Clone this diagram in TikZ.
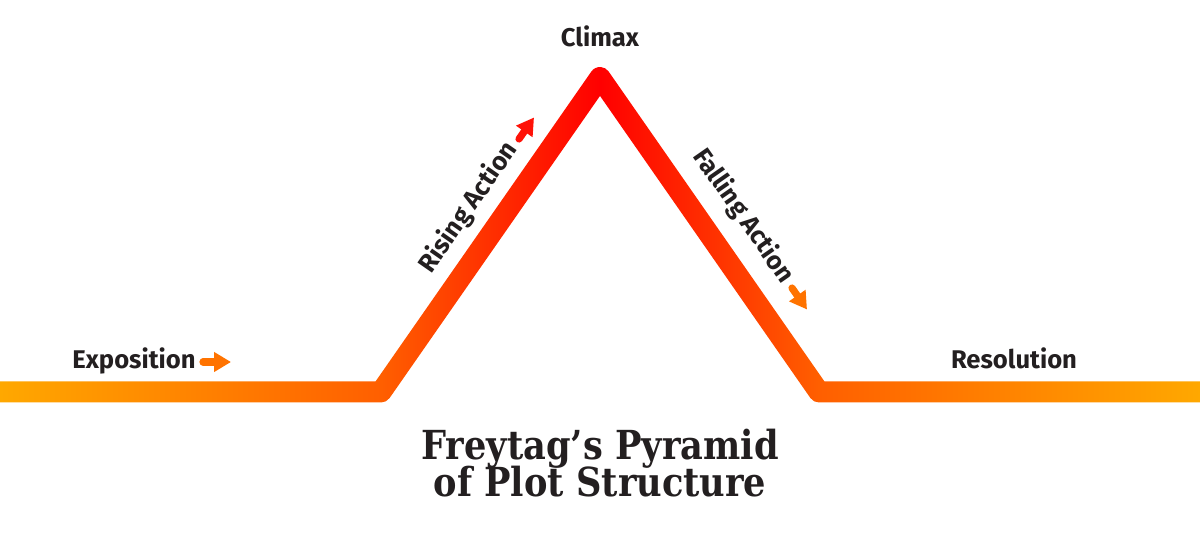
\documentclass[tikz,border=0pt]{standalone}
\usepackage{fontspec}
\usepackage{graphicx}
\usepackage{tikz}
\usetikzlibrary{arrows.meta}
\usepackage{xcolor}

\setmainfont{Fira Sans}
\newfontfamily\titlefont{DejaVu Serif}

\definecolor{pyrYellow}{HTML}{FFA800}
\definecolor{pyrOrange}{HTML}{FF5F00}
\definecolor{pyrRed}{HTML}{FF0000}
\definecolor{pyrText}{HTML}{231F20}
\definecolor{arrOrange}{HTML}{FF7300}
\definecolor{arrRed}{HTML}{FF1208}

\pgfdeclarehorizontalshading{plotline}{100bp}{color(0bp)=(pyrYellow); color(25bp)=(pyrYellow); color(40.875bp)=(pyrOrange); color(50bp)=(pyrRed); color(59.125bp)=(pyrOrange); color(75bp)=(pyrYellow); color(100bp)=(pyrYellow)}

\tikzset{
  stage/.style={text=pyrText, font=\fontsize{12.8}{15}\selectfont\bfseries, inner sep=0pt},
  hint/.style={line width=3.6pt, line cap=round, -{Triangle[length=8.5pt,width=9.5pt]}},
  heading/.style={text=pyrText, anchor=base, inner sep=0pt},
}

\begin{document}
\begin{tikzpicture}[x=0.5pt, y=0.5pt]

\useasboundingbox (0,0) rectangle (1200,535);

% the plot line
\shade[shading=plotline] (0,153.5) -- (375.5,153.5) -- (591.38,463.5)
  arc[start angle=145.15, end angle=34.85, radius=10.5]
  -- (824.5,153.5) -- (1200,153.5) -- (1200,132.5) -- (819,132.5)
  arc[start angle=270, end angle=214.85, radius=10.5]
  -- (600,439.1) -- (389.62,137.0)
  arc[start angle=325.15, end angle=270, radius=10.5]
  -- (0,132.5) -- cycle;

% labels
\node[stage, anchor=base] (expo) at (134,166) {Exposition};
\node[stage, anchor=base] (reso) at (1014,166) {Resolution};
\node[stage, anchor=base] (climax) at (600,488) {Climax};
\node[stage, rotate=55.15] (rising) at (468.5,327.5) {Rising Action};
\node[stage, rotate=-55.15] (falling) at (743.5,319) {Falling Action};

% little arrows
\coordinate (expoTail) at (203,173);
\coordinate (expoTip) at (231,173);
\coordinate (riseTail) at (519,396);
\coordinate (riseTip) at (534,417.5);
\coordinate (fallTail) at (792,247);
\coordinate (fallTip) at (807,225.5);

\draw[hint, arrOrange] (expoTail) -- (expoTip);
\draw[hint, arrRed] (riseTail) -- (riseTip);
\draw[hint, arrOrange] (fallTail) -- (fallTip);

% title
\node[heading] (title1) at (600,75)
  {\scalebox{0.88}[1]{\titlefont\bfseries\fontsize{20}{24}\selectfont Freytag’s Pyramid}};
\node[heading] (title2) at (600,38)
  {\scalebox{0.88}[1]{\titlefont\bfseries\fontsize{20}{24}\selectfont of Plot Structure}};

\end{tikzpicture}
\end{document}
